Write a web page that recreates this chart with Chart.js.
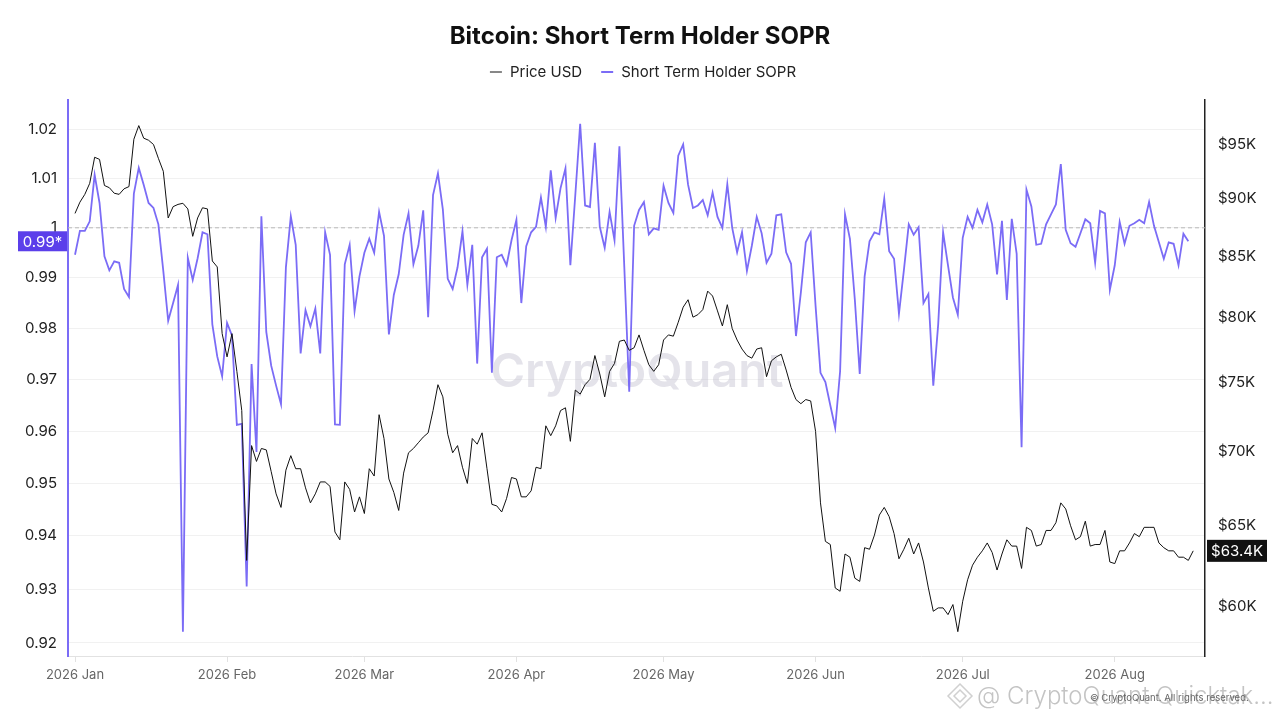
<!DOCTYPE html>
<html>
<head>
<meta charset="utf-8">
<title>Bitcoin: Short Term Holder SOPR</title>
<script src="https://cdn.jsdelivr.net/npm/chart.js@4.4.1/dist/chart.umd.min.js"></script>
<style>
  html, body { margin: 0; padding: 0; background: #fff; }
  #wrap { width: 1280px; height: 720px; }
</style>
</head>
<body>
<div id="wrap"><canvas id="soprChart" width="1280" height="720"></canvas></div>
<script>
// daily series, index 0 = 2026-01-01
const monthTicks = [0, 31, 59, 90, 120, 151, 181, 212];
const monthLabels = ["2026 Jan", "2026 Feb", "2026 Mar", "2026 Apr", "2026 May", "2026 Jun", "2026 Jul", "2026 Aug"];
const soprTicks = [0.92, 0.93, 0.94, 0.95, 0.96, 0.97, 0.98, 0.99, 1, 1.01, 1.02];
const priceTicks = [60000, 65000, 70000, 75000, 80000, 85000, 90000, 95000];

const priceUsd = [
    88700, 89700, 90400, 91400, 93800, 93600, 91200, 91000, 90500, 90400,
    90900, 91100, 95500, 96800, 95600, 95400, 95000, 93700, 92500, 88300,
    89300, 89500, 89600, 89100, 86700, 88300, 89200, 89100, 84600, 84100,
    78700, 76900, 78700, 75800, 72900, 62800, 70400, 69300, 70200, 70100,
    68600, 67100, 66200, 68700, 69700, 68800, 68800, 67500, 66500, 67100,
    67900, 67900, 67600, 64600, 64100, 67900, 67400, 65900, 66900, 65800,
    68800, 68300, 72600, 70900, 68100, 67200, 66000, 68500, 69900, 70200,
    70600, 71000, 71300, 72900, 74800, 73900, 71200, 69900, 70400, 68900,
    67800, 70900, 70500, 71300, 68800, 66400, 66300, 65900, 66800, 68200,
    68100, 66900, 66900, 67300, 68900, 68800, 71800, 71100, 71800, 72900,
    73100, 70700, 74400, 74100, 74800, 75200, 77000, 75600, 73900, 75800,
    76400, 78100, 78200, 77400, 77600, 78600, 77400, 76300, 75800, 76300,
    78200, 78600, 78500, 79600, 80800, 81400, 80000, 80200, 80600, 82100,
    81700, 80500, 79300, 81000, 79100, 78200, 77500, 77000, 76800, 77500,
    77600, 75400, 76600, 76900, 77100, 75900, 74600, 73700, 73400, 73700,
    73600, 71400, 66500, 64000, 63800, 61100, 60900, 63200, 63000, 61700,
    61500, 63600, 63500, 64400, 65700, 66200, 65600, 64500, 62900, 63500,
    64200, 63200, 63900, 62700, 61100, 59700, 59900, 59900, 59500, 60100,
    58500, 60300, 61600, 62500, 63000, 63400, 63900, 63300, 62200, 63200,
    64100, 63700, 63700, 62300, 64900, 64700, 63700, 63800, 64700, 64700,
    65200, 66500, 66100, 65000, 64100, 64300, 65300, 63700, 63800, 63800,
    64700, 62700, 62600, 63400, 63400, 63900, 64500, 64300, 64900, 64900,
    64900, 63900, 63600, 63400, 63400, 63000, 63000, 62800, 63400
];

const sopr = [
    0.9946, 0.9994, 0.9994, 1.0013, 1.0107, 1.0050, 0.9943, 0.9915, 0.9933, 0.9930,
    0.9878, 0.9862, 1.0069, 1.0121, 1.0087, 1.0050, 1.0040, 1.0007, 0.9914, 0.9815,
    0.9850, 0.9886, 0.9221, 0.9940, 0.9896, 0.9939, 0.9991, 0.9987, 0.9808, 0.9745,
    0.9706, 0.9811, 0.9786, 0.9612, 0.9614, 0.9305, 0.9730, 0.9560, 1.0023, 0.9793,
    0.9727, 0.9688, 0.9652, 0.9921, 1.0023, 0.9966, 0.9751, 0.9836, 0.9804, 0.9839,
    0.9751, 0.9991, 0.9946, 0.9613, 0.9612, 0.9927, 0.9966, 0.9834, 0.9903, 0.9950,
    0.9978, 0.9950, 1.0032, 0.9984, 0.9788, 0.9866, 0.9907, 0.9986, 1.0029, 0.9927,
    0.9964, 1.0035, 0.9822, 1.0066, 1.0110, 1.0037, 0.9898, 0.9878, 0.9921, 0.9993,
    0.9886, 0.9966, 0.9731, 0.9941, 0.9958, 0.9713, 0.9941, 0.9946, 0.9925, 0.9975,
    1.0016, 0.9850, 0.9963, 0.9991, 1.0002, 1.0061, 1.0002, 1.0116, 1.0020, 1.0080,
    1.0120, 0.9925, 1.0065, 1.0211, 1.0045, 1.0042, 1.0172, 1.0002, 0.9960, 1.0032,
    0.9975, 1.0165, 0.9921, 0.9676, 1.0004, 1.0036, 1.0052, 0.9987, 0.9999, 0.9996,
    1.0085, 1.0050, 1.0030, 1.0146, 1.0169, 1.0087, 1.0040, 1.0045, 1.0056, 1.0025,
    1.0071, 1.0022, 1.0000, 1.0088, 1.0000, 0.9951, 0.9991, 0.9914, 0.9964, 1.0022,
    0.9989, 0.9930, 0.9948, 1.0025, 1.0027, 0.9951, 0.9928, 0.9785, 0.9871, 0.9971,
    0.9991, 0.9844, 0.9713, 0.9695, 0.9650, 0.9606, 0.9716, 1.0027, 0.9978, 0.9857,
    0.9711, 0.9903, 0.9973, 0.9991, 0.9987, 1.0059, 0.9953, 0.9938, 0.9829, 0.9915,
    1.0007, 0.9986, 1.0001, 0.9850, 0.9868, 0.9688, 0.9808, 0.9991, 0.9925, 0.9861,
    0.9827, 0.9980, 1.0022, 1.0000, 1.0036, 1.0011, 1.0047, 1.0007, 0.9907, 1.0014,
    0.9856, 1.0018, 0.9948, 0.9569, 1.0077, 1.0043, 0.9966, 0.9968, 1.0007, 1.0027,
    1.0047, 1.0129, 0.9996, 0.9969, 0.9962, 0.9989, 1.0017, 1.0009, 0.9930, 1.0034,
    1.0029, 0.9876, 0.9925, 1.0012, 0.9968, 1.0004, 1.0009, 1.0016, 1.0009, 1.0052,
    1.0004, 0.9971, 0.9938, 0.9971, 0.9968, 0.9925, 0.9988, 0.9973
];

const FONT = "Inter, 'Noto Sans', sans-serif";
const PURPLE = "#7b6cf6";

// title, legend, watermark, reference line and last-value tags
const overlay = {
    id: "overlay",
    beforeDatasetsDraw(chart) {
        const { ctx, chartArea: a, scales } = chart;
        ctx.save();
        ctx.font = "600 47px " + FONT;
        ctx.fillStyle = "rgba(190,188,205,0.42)";
        ctx.textAlign = "center";
        ctx.textBaseline = "alphabetic";
        ctx.fillText("CryptoQuant", 637, 387);

        const y1 = scales.y.getPixelForValue(1);
        ctx.setLineDash([4, 3]);
        ctx.strokeStyle = "#b8b8b8";
        ctx.lineWidth = 1;
        ctx.beginPath();
        ctx.moveTo(a.left, y1);
        ctx.lineTo(a.right, y1);
        ctx.stroke();
        ctx.restore();
    },
    afterDraw(chart) {
        const { ctx, scales } = chart;
        ctx.save();

        ctx.fillStyle = "#111";
        ctx.font = "700 24px " + FONT;
        ctx.textAlign = "center";
        ctx.textBaseline = "middle";
        ctx.fillText("Bitcoin: Short Term Holder SOPR", 640, 37);

        // legend
        ctx.font = "15px " + FONT;
        const items = chart.data.datasets.map((d) => ({
            text: d.label,
            color: d.borderColor,
            w: ctx.measureText(d.label).width,
        }));
        const total = items.reduce((s, it) => s + 12 + 8 + it.w, 0) + 19 * (items.length - 1);
        let x = 643 - total / 2;
        ctx.textAlign = "left";
        items.forEach((it) => {
            ctx.strokeStyle = it.color;
            ctx.lineWidth = it.color === PURPLE ? 2 : 1;
            ctx.beginPath();
            ctx.moveTo(x, 72);
            ctx.lineTo(x + 12, 72);
            ctx.stroke();
            ctx.fillStyle = "#222";
            ctx.fillText(it.text, x + 20, 72);
            x += 20 + it.w + 19;
        });

        // last value tags
        const lastS = sopr[sopr.length - 1];
        const ys = scales.y.getPixelForValue(lastS);
        ctx.fillStyle = "#5b3fea";
        ctx.fillRect(18, ys - 10, 49, 20);
        ctx.fillStyle = "#fff";
        ctx.font = "15px " + FONT;
        ctx.textAlign = "center";
        ctx.fillText(Math.floor(lastS * 100) / 100 + "*", 42.5, ys + 1);

        const lastP = priceUsd[priceUsd.length - 1];
        const yp = scales.y1.getPixelForValue(lastP);
        ctx.fillStyle = "#111";
        ctx.fillRect(1207, yp - 11, 60, 22);
        ctx.fillStyle = "#fff";
        ctx.fillText("$" + (lastP / 1000).toFixed(1) + "K", 1237, yp + 1);

        // footer marks
        ctx.strokeStyle = "#d0d0d0";
        ctx.lineWidth = 1.5;
        ctx.beginPath();
        ctx.moveTo(960, 684); ctx.lineTo(972, 696); ctx.lineTo(960, 708); ctx.lineTo(948, 696); ctx.closePath();
        ctx.moveTo(960, 690); ctx.lineTo(966, 696); ctx.lineTo(960, 702); ctx.lineTo(954, 696); ctx.closePath();
        ctx.stroke();
        ctx.font = "300 24px " + FONT;
        ctx.fillStyle = "#c4c4c4";
        ctx.textAlign = "left";
        ctx.textBaseline = "alphabetic";
        ctx.fillText("@ CryptoQuant Quicktak...", 977, 704);
        ctx.font = "9.5px " + FONT;
        ctx.fillStyle = "#666";
        ctx.fillText("© CryptoQuant. All rights reserved.", 1090, 701);
        ctx.restore();
    },
};

const config = {
    type: "line",
    data: {
        datasets: [
            {
                label: "Price USD",
                data: priceUsd.map((v, i) => ({ x: i, y: v })),
                yAxisID: "y1",
                borderColor: "#111",
                borderWidth: 1,
                pointRadius: 0,
                tension: 0,
            },
            {
                label: "Short Term Holder SOPR",
                data: sopr.map((v, i) => ({ x: i, y: v })),
                yAxisID: "y",
                borderColor: PURPLE,
                borderWidth: 1.8,
                pointRadius: 0,
                tension: 0,
            },
        ],
    },
    options: {
        responsive: false,
        animation: false,
        layout: { padding: { top: 100, left: 0, right: 0, bottom: 0 } },
        plugins: {
            legend: { display: false },
            title: { display: false },
            tooltip: { enabled: false },
        },
        scales: {
            x: {
                type: "linear",
                min: -1.43,
                max: 230.4,
                afterBuildTicks: (s) => {
                    s.ticks = monthTicks.map((v) => ({ value: v }));
                },
                afterFit: (s) => {
                    s.height = 64;
                },
                ticks: {
                    callback: (v) => monthLabels[monthTicks.indexOf(v)],
                    color: "#666",
                    font: { size: 13, family: FONT },
                    padding: 5,
                    maxRotation: 0,
                    autoSkip: false,
                },
                grid: { drawOnChartArea: false, color: "#e2e2e2", tickLength: 6 },
                border: { color: "#e2e2e2", width: 1 },
            },
            y: {
                type: "logarithmic",
                position: "left",
                min: 0.9176,
                max: 1.026,
                afterBuildTicks: (s) => {
                    s.ticks = soprTicks.map((v) => ({ value: v }));
                },
                afterFit: (s) => {
                    s.width = 68;
                },
                ticks: {
                    callback: (v) => String(+v.toFixed(2)),
                    color: "#222",
                    font: { size: 15, family: FONT },
                    padding: 11,
                },
                grid: { color: "#f1f1f1", drawTicks: false },
                border: { color: PURPLE, width: 2 },
            },
            y1: {
                type: "logarithmic",
                position: "right",
                min: 57100,
                max: 99300,
                afterBuildTicks: (s) => {
                    s.ticks = priceTicks.map((v) => ({ value: v }));
                },
                afterFit: (s) => {
                    s.width = 75;
                },
                ticks: {
                    callback: (v) => "$" + v / 1000 + "K",
                    color: "#222",
                    font: { size: 15, family: FONT },
                    padding: 13,
                },
                grid: { drawOnChartArea: false, drawTicks: false },
                border: { color: "#222", width: 1.5 },
            },
        },
    },
    plugins: [overlay],
};

new Chart(document.getElementById("soprChart"), config);
</script>
</body>
</html>
